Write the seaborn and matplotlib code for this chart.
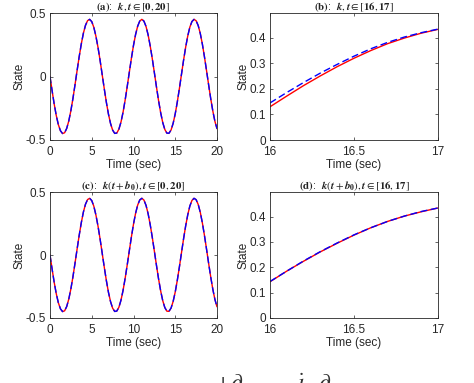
import numpy as np
import pandas as pd
import matplotlib
matplotlib.use("Agg")
import matplotlib.pyplot as plt
import seaborn as sns

sns.set_theme(style="white")
plt.rcParams["font.family"] = ["Liberation Sans", "DejaVu Sans"]
plt.rcParams["mathtext.fontset"] = "stix"

# ---- data ----
t_full = [0.0, 0.25, 0.5, 0.75, 1.0, 1.25, 1.5, 1.75, 2.0, 2.25, 2.5, 2.75, 3.0, 3.25, 3.5, 3.75,
          4.0, 4.25, 4.5, 4.75, 5.0, 5.25, 5.5, 5.75, 6.0, 6.25, 6.5, 6.75, 7.0, 7.25, 7.5, 7.75,
          8.0, 8.25, 8.5, 8.75, 9.0, 9.25, 9.5, 9.75, 10.0, 10.25, 10.5, 10.75, 11.0, 11.25, 11.5, 11.75,
          12.0, 12.25, 12.5, 12.75, 13.0, 13.25, 13.5, 13.75, 14.0, 14.25, 14.5, 14.75, 15.0, 15.25, 15.5, 15.75,
          16.0, 16.25, 16.5, 16.75, 17.0, 17.25, 17.5, 17.75, 18.0, 18.25, 18.5, 18.75, 19.0, 19.25, 19.5, 19.75, 20.0]
state_full = [0.0, -0.111, -0.216, -0.307, -0.379, -0.427, -0.449, -0.443, -0.409, -0.350, -0.269, -0.172, -0.063, 0.049, 0.158, 0.257,
              0.341, 0.403, 0.440, 0.450, 0.432, 0.387, 0.317, 0.229, 0.126, 0.015, -0.097, -0.203, -0.296, -0.370, -0.422, -0.448,
              -0.445, -0.415, -0.359, -0.281, -0.185, -0.078, 0.034, 0.144, 0.245, 0.331, 0.396, 0.437, 0.450, 0.436, 0.394, 0.328,
              0.241, 0.140, 0.030, -0.082, -0.189, -0.284, -0.362, -0.417, -0.446, -0.447, -0.421, -0.368, -0.293, -0.199, -0.093, 0.019,
              0.130, 0.232, 0.320, 0.389, 0.433, 0.450, 0.439, 0.401, 0.338, 0.254, 0.154, 0.045, -0.067, -0.175, -0.272, -0.353, -0.411]

t_zoom = [16.0, 16.1, 16.2, 16.3, 16.4, 16.5, 16.6, 16.7, 16.8, 16.9, 17.0]
state_zoom_red = [0.130, 0.172, 0.213, 0.251, 0.287, 0.320, 0.350, 0.377, 0.399, 0.418, 0.433]
state_zoom_blue = [0.145, 0.186, 0.225, 0.262, 0.296, 0.328, 0.357, 0.382, 0.403, 0.420, 0.434]
state_zoom_d_red = [0.143, 0.185, 0.224, 0.261, 0.295, 0.327, 0.356, 0.381, 0.402, 0.419, 0.434]
state_zoom_d_blue = [0.144, 0.185, 0.225, 0.262, 0.296, 0.328, 0.356, 0.381, 0.402, 0.420, 0.434]

titles = [r"$\mathbf{(a)}$:  $\mathbfit{k}, \mathbfit{t} \in [\mathbf{0}, \mathbf{20}]$",
          r"$\mathbf{(b)}$:  $\mathbfit{k}, \mathbfit{t} \in [\mathbf{16}, \mathbf{17}]$",
          r"$\mathbf{(c)}$:  $\mathbfit{k}(\mathbfit{t}+\mathbfit{b}_{\mathbf{0}}), \mathbfit{t} \in [\mathbf{0}, \mathbf{20}]$",
          r"$\mathbf{(d)}$:  $\mathbfit{k}(\mathbfit{t}+\mathbfit{b}_{\mathbf{0}}), \mathbfit{t} \in [\mathbf{16}, \mathbf{17}]$"]

fig = plt.figure(figsize=(4.74, 3.83), dpi=100)
W, H = 474, 383
def rect(l, r, t, b):
    return [l / W, 1 - b / H, (r - l) / W, (b - t) / H]

axes = [fig.add_axes(rect(50, 217, 13, 140)), fig.add_axes(rect(270, 438, 13, 140)),
        fig.add_axes(rect(50, 217, 192, 318)), fig.add_axes(rect(270, 438, 192, 318))]

dash = (0, (5, 2.5))
panels = [
    (t_full, state_full, state_full),
    (t_zoom, state_zoom_red, state_zoom_blue),
    (t_full, state_full, state_full),
    (t_zoom, state_zoom_d_red, state_zoom_d_blue),
]
for i, (ax, (tt, r, b)) in enumerate(zip(axes, panels)):
    df = pd.DataFrame({"t": tt, "red": r, "blue": b})
    sns.lineplot(data=df, x="t", y="red", color=(1, 0, 0), lw=1.0, ax=ax)
    sns.lineplot(data=df, x="t", y="blue", color=(0, 0, 1), lw=1.0, linestyle=dash, ax=ax)
    if i % 2 == 0:
        ax.set_xlim(0, 20)
        ax.set_xticks([0, 5, 10, 15, 20])
        ax.set_ylim(-0.5, 0.5)
        ax.set_yticks([-0.5, 0, 0.5])
        ax.set_yticklabels(["-0.5", "0", "0.5"])
        ax.set_ylabel("State", fontsize=8.5, labelpad=0)
    else:
        ax.set_xlim(16, 17)
        ax.set_xticks([16, 16.5, 17])
        ax.set_xticklabels(["16", "16.5", "17"])
        ax.set_ylim(0, 0.497)
        ax.set_yticks([0, 0.1, 0.2, 0.3, 0.4])
        ax.set_yticklabels(["0", "0.1", "0.2", "0.3", "0.4"])
        ax.set_ylabel("State", fontsize=8.5, labelpad=0)
    ax.set_xlabel("Time (sec)", fontsize=8.5, labelpad=1)
    ax.set_title(titles[i], fontsize=7.8, pad=2, color="#222222")
    ax.tick_params(axis="x", pad=4)
    ax.tick_params(axis="y", pad=3)
    ax.tick_params(direction="in", length=2.5, width=0.5, labelsize=8.5,
                   top=True, right=True, bottom=True, left=True, colors="#262626")
    for s in ax.spines.values():
        s.set_linewidth(0.6)
        s.set_color("#262626")
    ax.set_facecolor("white")

# cut-off equation at the bottom edge (only its top shows, as in the reference)
fig.text(0.452, 9 / H, r"$+\partial\qquad\quad\;\dot{\imath}\;\;\;\partial$", va="top", ha="left",
         fontsize=17, color="#333333")

fig.savefig("out.png", dpi=100, facecolor="white")
